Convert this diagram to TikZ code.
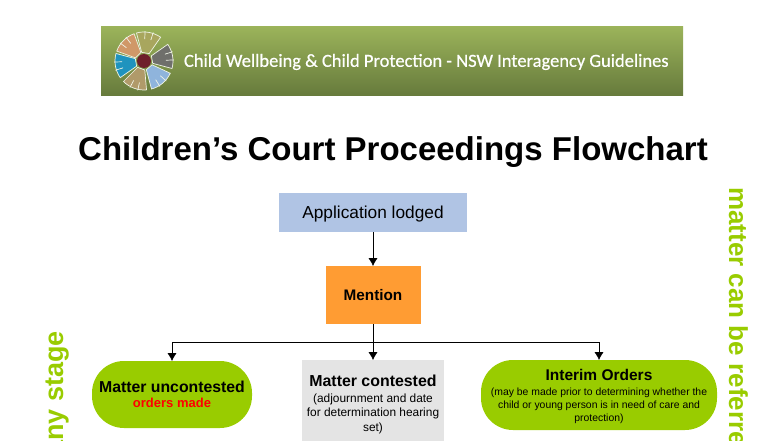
\documentclass[tikz,border=0pt]{standalone}
\usepackage{fontspec}
\usepackage{xcolor}
\setmainfont{Liberation Sans}
\newfontfamily\bannerfont[FakeBold=0.6]{Carlito}
\usetikzlibrary{positioning,arrows.meta}
\definecolor{pillgreen}{HTML}{99CC00}
\definecolor{boxblue}{HTML}{B0C4E4}
\definecolor{boxorange}{HTML}{FF9C33}
\definecolor{boxgrey}{HTML}{E4E4E4}
\definecolor{bannertop}{HTML}{9BB35A}
\definecolor{bannerbot}{HTML}{667A3C}
\definecolor{logobrown}{HTML}{6E1F2B}
\definecolor{logoolive}{HTML}{A8A65E}
\definecolor{logotan}{HTML}{D09868}
\definecolor{logoteal}{HTML}{1F93BE}
\definecolor{logosand}{HTML}{B09A6A}
\definecolor{logosky}{HTML}{8FB4DC}
\definecolor{logogrey}{HTML}{6F6F6B}
\newcommand{\txt}[1]{\fontsize{#1}{#1}\selectfont}
\begin{document}
\begin{tikzpicture}[x=1pt,y=-1pt,>={Latex[length=8pt,width=9pt]},
    main node/.style={rectangle,inner sep=0pt,outer sep=0pt,align=center},
    pill node/.style={main node,fill=pillgreen,rounded corners=32pt},
    side text/.style={font=\txt{26}\bfseries,text=pillgreen,inner sep=0pt}]
    \useasboundingbox (0,0) rectangle (784,441);
    % banner
    \node[main node,minimum width=582pt,minimum height=69pt,top color=bannertop,bottom color=bannerbot] (banner) at (392,61.5) {};
    \node[main node,anchor=west,text=white,font=\bannerfont\txt{18.5}] (bannertext) at (184,62) {Child Wellbeing \& Child Protection - NSW Interagency Guidelines};
    % logo
    \begin{scope}[shift={(144,61)},y=1pt]
        \foreach \ang/\col in {80/logoolive,135/logotan,190/logoteal,250/logosand,310/logosky,10/logogrey} {
            \fill[\col,draw=white!85!bannertop,line width=.7pt] (\ang-25:9) -- (\ang-25:29) arc[start angle=\ang-25,end angle=\ang+25,radius=29] -- (\ang+25:9) -- cycle;
            \draw[white!85!bannertop,line width=.7pt] (\ang-8:22) -- (\ang-8:30) (\ang+8:22) -- (\ang+8:30);
        }
        \fill[logobrown] (0,0) circle (7);
    \end{scope}
    % title
    \node[main node,font=\txt{33}\bfseries] (title) at (393,152) {Children’s Court Proceedings Flowchart};
    % boxes
    \node[main node,fill=boxblue,minimum width=188pt,minimum height=39pt,font=\txt{17.3}] (lodged) at (373,212.5) {\rule{0pt}{15pt}Application lodged};
    \node[main node,fill=boxorange,minimum width=95pt,minimum height=58pt,font=\txt{15.3}\bfseries] (mention) [below=34pt of lodged] {Mention};
    \coordinate[below=18pt of mention] (bus);
    \node[main node,fill=boxgrey,minimum width=142pt,minimum height=81pt,anchor=north] (contested) [below=36pt of mention.south] {\rule{0pt}{19pt}{\txt{15.9}\bfseries Matter contested}\\[3.5pt]{\txt{11.9}(adjournment and date}\\[2.5pt]{\txt{11.9}for determination hearing}\\[2.5pt]{\txt{11.9}set)}};
    \node[pill node,minimum width=160pt,minimum height=67pt] (uncontested) at (172,394.5) {{\txt{15.8}\bfseries Matter uncontested}\\[3pt]{\txt{13}\bfseries\color{red}orders made}};
    \node[pill node,minimum width=236pt,minimum height=70pt] (interim) at (599,395) {\rule{0pt}{14pt}{\txt{15.5}\bfseries Interim Orders}\\[3pt]{\txt{10.4}(may be made prior to determining whether the}\\[1pt]{\txt{10.4}child or young person is in need of care and}\\[.5pt]{\txt{10.4}protection)}};
    % connectors
    \draw[->] (lodged) -- (mention);
    \draw[->] (mention) -- (contested);
    \draw[->] (bus) -| (uncontested);
    \draw[->] (bus) -| (interim);
    % side labels
    \node[side text,font=\txt{27}\bfseries,rotate=90,anchor=base east] (stageside) at (63,331) {any stage};
    \node[side text,rotate=-90,anchor=base west] (referside) at (729,187) {matter can be referre};
\end{tikzpicture}
\end{document}
